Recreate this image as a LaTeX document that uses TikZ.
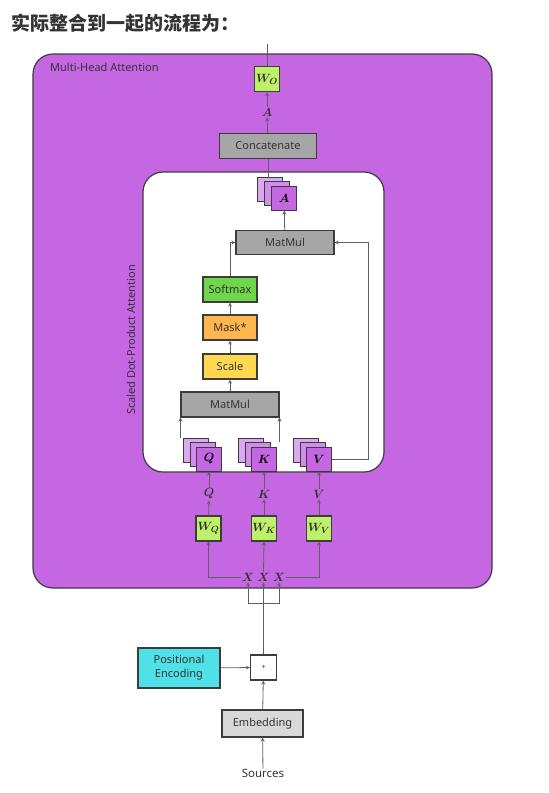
\documentclass[tikz,border=0pt]{standalone}
\usepackage{fontspec}
\usepackage{bm}
\setsansfont{Noto Sans}
\newfontfamily\cjkfont{Noto Sans CJK SC}
\definecolor{mhafill}{RGB}{197,102,227}
\definecolor{sheetlight}{RGB}{220,168,240}
\definecolor{sheetmid}{RGB}{210,140,236}
\definecolor{weightfill}{RGB}{190,240,105}
\definecolor{smfill}{RGB}{112,214,75}
\definecolor{maskfill}{RGB}{255,183,77}
\definecolor{scalefill}{RGB}{255,216,80}
\definecolor{mmfill}{RGB}{166,166,166}
\definecolor{embfill}{RGB}{217,217,217}
\definecolor{pefill}{RGB}{80,224,232}
\definecolor{edge}{RGB}{60,60,60}
\definecolor{wire}{RGB}{95,95,95}
\begin{document}
\begin{tikzpicture}[x=1pt,y=-1pt]
	\tikzstyle{box} = [draw=edge, line width=1.1, inner sep=0, text=black!80, font=\sffamily\fontsize{11}{13}\selectfont]
	\tikzstyle{weight} = [box, fill=weightfill, minimum width=25, minimum height=25, font=\fontsize{12.5}{13}\selectfont]
	\tikzstyle{op} = [box, minimum width=54, minimum height=25]
	\tikzstyle{matmul} = [box, fill=mmfill, minimum width=98, minimum height=24]
	\tikzstyle{sheet} = [draw=edge, line width=1, fill=sheetlight, minimum width=25, minimum height=24, inner sep=0]
	\tikzstyle{front} = [sheet, fill=mhafill, font=\fontsize{12.5}{13}\selectfont]
	\tikzstyle{lab} = [inner sep=1, font=\fontsize{12.5}{13}\selectfont, text=black!80]
	\tikzstyle{caption} = [inner sep=0, font=\sffamily\fontsize{11}{13}\selectfont, text=black!80]
	\tikzstyle{arr} = [-stealth, draw=wire, line width=0.8]
\useasboundingbox (0,0) rectangle (549,793);
\node [anchor=west, inner sep=0, text=black!80] (title) at (11,23) {\cjkfont\fontsize{19}{22}\selectfont\bfseries 实际整合到一起的流程为：};
\draw [rounded corners=20, fill=mhafill, draw=edge, line width=1.2] (33,54) rectangle (492,588);
\draw [rounded corners=20, fill=white, draw=edge, line width=1.2] (143,172) rectangle (384,472);
\node [caption, anchor=west] (mha) at (50,67) {Multi-Head Attention};
\node [caption, rotate=90] (sdpa) at (131,340) {Scaled Dot-Product Attention};
\coordinate (out) at (267,44);
\node [weight] (wo) at (267,79) {$\bm{W_O}$};
\node [lab] (a) at (267,112) {$\bm{A}$};
\node [box, fill=mmfill, minimum width=97, minimum height=25] (concat) at (268,146) {Concatenate};
\node [sheet] (a1) at (269.5,189.5) {};
\node [sheet, fill=sheetmid] (a2) at (276.5,193.5) {};
\node [front] (a3) at (284,198) {$\bm{A}$};
\node [matmul] (mm1) at (285,242.5) {MatMul};
\node [op, fill=smfill] (sm) at (230,289.5) {Softmax};
\node [op, fill=maskfill] (mask) at (230,327.5) {Mask*};
\node [op, fill=scalefill] (scale) at (230,366.5) {Scale};
\node [matmul, minimum height=25] (mm2) at (230,404.5) {MatMul};
\node [sheet] (q1) at (195.5,450) {};
\node [sheet, fill=sheetmid] (q2) at (202.5,454.5) {};
\node [front] (q3) at (209,459) {$\bm{Q}$};
\node [sheet] (k1) at (250.5,450) {};
\node [sheet, fill=sheetmid] (k2) at (257.5,454.5) {};
\node [front] (k3) at (264,459) {$\bm{K}$};
\node [sheet] (v1) at (305.5,450) {};
\node [sheet, fill=sheetmid] (v2) at (312.5,454.5) {};
\node [front] (v3) at (319,459) {$\bm{V}$};
\coordinate (vr) at (368,459);
\node [lab] (q) at (209,494) {$\bm{Q}$};
\node [lab] (k) at (264,494) {$\bm{K}$};
\node [lab] (v) at (319,494) {$\bm{V}$};
\node [weight] (wq) at (208.5,528.5) {$\bm{W_Q}$};
\node [weight] (wk) at (264,528.5) {$\bm{W_K}$};
\node [weight] (wv) at (319,528.5) {$\bm{W_V}$};
\node [lab] (x1) at (248,577) {$\bm{X}$};
\node [lab] (x2) at (263.5,577) {$\bm{X}$};
\node [lab] (x3) at (279,577) {$\bm{X}$};
\coordinate (join) at (263.5,603);
\node [box, fill=white, minimum width=26, minimum height=25, font=\sffamily\fontsize{7}{8}\selectfont] (plus) at (263.5,667.5) {+};
\node [box, fill=pefill, minimum width=82, minimum height=40, align=center, font=\sffamily\fontsize{11}{14}\selectfont] (pe) at (179,668) {Positional\\Encoding};
\node [box, fill=embfill, minimum width=81, minimum height=27] (emb) at (262.5,723.5) {Embedding};
\node [caption, font=\sffamily\fontsize{11.5}{13}\selectfont] (src) at (263,773) {Sources};
\draw [draw=wire, line width=0.8] (wo) -- (out);
\draw [arr] (a) -- (wo);
\draw [arr] (concat) -- (a);
\draw [draw=wire, line width=0.8] (concat.south) -- (concat.south |- a1.north);
\draw [arr] (mm1) -- (a3);
\draw [arr] (sm.north) |- (mm1.west);
\draw [arr] (v3.east) -- (vr) |- (mm1.east);
\draw [arr] (mask) -- (sm);
\draw [arr] (scale) -- (mask);
\draw [arr] (mm2) -- (scale);
\draw [arr] (mm2.south west |- q1.north) -- (mm2.south west);
\draw [arr] (mm2.south east |- k2.north) -- (mm2.south east);
\draw [arr] (q) -- (q3);
\draw [arr] (k) -- (k3);
\draw [arr] (v) -- (v3);
\draw [arr] (wq) -- (q);
\draw [arr] (wk) -- (k);
\draw [arr] (wv) -- (v);
\draw [arr] (x1.west) -| (wq.south);
\draw [arr] (x2.north) -- (wk.south);
\draw [arr] (x3.east) -| (wv.south);
\draw [arr] (join) -| (x1.south);
\draw [arr] (join) -- (x2.south);
\draw [arr] (join) -| (x3.south);
\draw [draw=wire, line width=0.8] (plus) -- (join);
\draw [arr] (pe) -- (plus);
\draw [arr] (emb) -- (plus);
\draw [arr] (src) -- (emb);
\end{tikzpicture}
\end{document}
